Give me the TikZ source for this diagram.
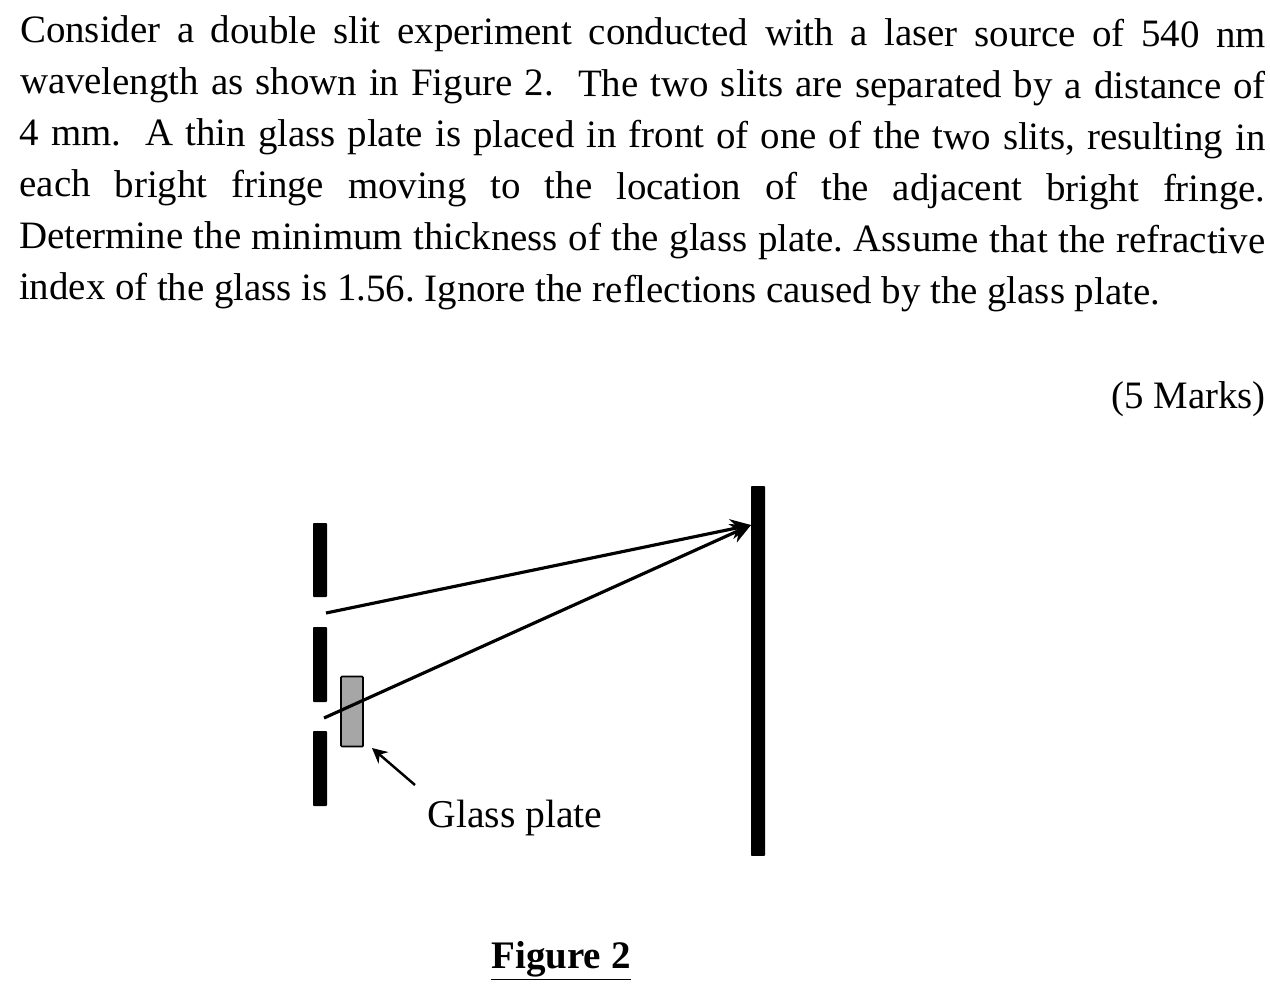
\documentclass[tikz,border=0pt]{standalone}
\usepackage{fontspec}
\setmainfont{Liberation Serif}
\usetikzlibrary{arrows.meta}
\begin{document}
\frenchspacing
\begin{tikzpicture}[
        x=0.02cm, y=-0.02cm,
        % Style for the opaque bars
        barnode/.style={
            rectangle,
            fill=black,
            rounded corners=0.5pt,
            minimum width=0.28cm,
            inner sep=0pt
        },
        % Style for the light rays
        ray/.style={
            draw=black,
            line width=1.8pt,
            -{Stealth[length=4mm,width=4mm]}
        },
        % Style for the printed text
        bodytext/.style={
            font=\fontsize{22.1}{29.3}\selectfont,
            inner sep=0pt
        }
    ]
        \useasboundingbox (0,0) rectangle (1270,992);

        % --- QUESTION TEXT ---
        \node[bodytext, text width=24.92cm, align=justify, anchor=north west, rotate=-0.24] (question) at (20,14.5) {%
            Consider a double slit experiment conducted with a laser source of 540 nm\linebreak
            wavelength as shown in Figure 2.\ \ The two slits are separated by a distance of\linebreak
            4 mm.\ \ A thin glass plate is placed in front of one of the two slits, resulting in\linebreak
            each bright fringe moving to the location of the adjacent bright fringe.\linebreak
            Determine the minimum thickness of the glass plate. Assume that the refractive\linebreak
            index of the glass is 1.56. Ignore the reflections caused by the glass plate.};
        \node[bodytext, anchor=east] (marks) at (1266,399) {(5 Marks)};

        % --- SLITS AND SCREEN ---
        \node[barnode, minimum height=1.48cm] (slitTop) at (320,560) {};
        \node[barnode, minimum height=1.50cm] (slitMid) at (320,664.5) {};
        \node[barnode, minimum height=1.50cm] (slitBot) at (320,768.5) {};
        \node[barnode, minimum height=7.40cm] (screen) at (758,671) {};

        % --- GLASS PLATE ---
        \node[rectangle, draw=black, fill=black!35, line width=0.9pt, rounded corners=0.5pt,
            minimum width=0.44cm, minimum height=1.40cm, inner sep=0pt] (plate) at (352,711.5) {};

        % --- RAYS ---
        \coordinate (gapTop) at (326,613);
        \coordinate (gapBot) at (324,718);
        \coordinate (hit) at (751,525);
        \draw[ray] (gapTop) -- (hit);
        \draw[ray] (gapBot) -- (hit);

        % --- LABELS ---
        \node[bodytext, font=\fontsize{22.5}{26}\selectfont, rotate=-0.24] (glassLabel) at (515,818) {Glass plate};
        \coordinate (glassTail) at (415,785);
        \coordinate (glassHead) at (372,748);
        \draw[draw=black, line width=1.4pt, -{Stealth[length=3mm,width=3mm]}] (glassTail) -- (glassHead);
        \node[bodytext, font=\bfseries\fontsize{22.2}{26}\selectfont] (figLabel) at (561,961) {\underline{Figure 2}};

    \end{tikzpicture}
\end{document}
